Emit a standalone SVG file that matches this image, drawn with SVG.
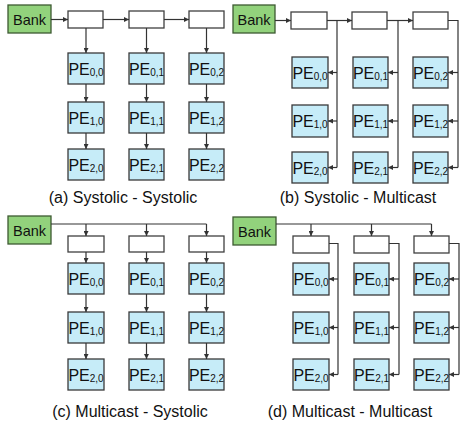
<svg xmlns="http://www.w3.org/2000/svg" width="474" height="434" viewBox="0 0 474 434">
<defs>
<marker id="ah" viewBox="0 0 6 6" refX="6" refY="3" markerWidth="5" markerHeight="5" orient="auto" markerUnits="userSpaceOnUse">
<path d="M0,0 L6,3 L0,6 Z" fill="#333"/>
</marker>
</defs>
<style>
.bank{fill:#92d27c;stroke:#3d5a32;stroke-width:1.3}
.buf{fill:#fff;stroke:#404040;stroke-width:1.3}
.pe{fill:#c6ecf8;stroke:#3a3a3a;stroke-width:1.3}
.t{font-family:"Liberation Sans",Arial,sans-serif;fill:#111;text-anchor:middle}
.bt{font-size:14.5px}
.pt{font-size:16px}
.sb{font-size:10px}
.cap{font-size:16px}
.c{fill:none;stroke:#333;stroke-width:1.2}
.a{marker-end:url(#ah)}
</style>
<rect width="474" height="434" fill="#fff"/>

<!-- Panel a -->
<g id="a-bank"><rect class="bank" x="8" y="5" width="43" height="28"/><text class="t bt" x="29.5" y="24.5">Bank</text></g>
<g id="a-buf0"><rect class="buf" x="68" y="11" width="35" height="17"/></g>
<g id="a-buf1"><rect class="buf" x="129" y="11" width="35" height="17"/></g>
<g id="a-buf2"><rect class="buf" x="189" y="11" width="35" height="17"/></g>
<g id="a-pe00"><rect class="pe" x="68" y="53" width="36" height="31"/><text class="t pt" x="86" y="74.5">PE<tspan class="sb" dy="1">0,0</tspan></text></g>
<g id="a-pe01"><rect class="pe" x="129" y="53" width="35" height="31"/><text class="t pt" x="146.5" y="74.5">PE<tspan class="sb" dy="1">0,1</tspan></text></g>
<g id="a-pe02"><rect class="pe" x="189" y="53" width="35" height="31"/><text class="t pt" x="206.5" y="74.5">PE<tspan class="sb" dy="1">0,2</tspan></text></g>
<g id="a-pe10"><rect class="pe" x="68" y="102" width="36" height="31"/><text class="t pt" x="86" y="123.5">PE<tspan class="sb" dy="1">1,0</tspan></text></g>
<g id="a-pe11"><rect class="pe" x="129" y="102" width="35" height="31"/><text class="t pt" x="146.5" y="123.5">PE<tspan class="sb" dy="1">1,1</tspan></text></g>
<g id="a-pe12"><rect class="pe" x="189" y="102" width="35" height="31"/><text class="t pt" x="206.5" y="123.5">PE<tspan class="sb" dy="1">1,2</tspan></text></g>
<g id="a-pe20"><rect class="pe" x="68" y="149" width="36" height="31"/><text class="t pt" x="86" y="170.5">PE<tspan class="sb" dy="1">2,0</tspan></text></g>
<g id="a-pe21"><rect class="pe" x="129" y="149" width="35" height="31"/><text class="t pt" x="146.5" y="170.5">PE<tspan class="sb" dy="1">2,1</tspan></text></g>
<g id="a-pe22"><rect class="pe" x="189" y="149" width="35" height="31"/><text class="t pt" x="206.5" y="170.5">PE<tspan class="sb" dy="1">2,2</tspan></text></g>
<text class="t cap" x="123" y="203">(a) Systolic - Systolic</text>

<!-- Panel b -->
<g id="b-bank"><rect class="bank" x="233" y="5" width="42" height="28"/><text class="t bt" x="254" y="24.5">Bank</text></g>
<g id="b-buf0"><rect class="buf" x="291" y="12" width="36" height="17"/></g>
<g id="b-buf1"><rect class="buf" x="352" y="12" width="35" height="17"/></g>
<g id="b-buf2"><rect class="buf" x="413" y="12" width="35" height="17"/></g>
<g id="b-pe00"><rect class="pe" x="292" y="57" width="36" height="31"/><text class="t pt" x="310" y="78.5">PE<tspan class="sb" dy="1">0,0</tspan></text></g>
<g id="b-pe01"><rect class="pe" x="353" y="57" width="35" height="31"/><text class="t pt" x="370.5" y="78.5">PE<tspan class="sb" dy="1">0,1</tspan></text></g>
<g id="b-pe02"><rect class="pe" x="413" y="57" width="35" height="31"/><text class="t pt" x="430.5" y="78.5">PE<tspan class="sb" dy="1">0,2</tspan></text></g>
<g id="b-pe10"><rect class="pe" x="292" y="105" width="36" height="32"/><text class="t pt" x="310" y="127">PE<tspan class="sb" dy="1">1,0</tspan></text></g>
<g id="b-pe11"><rect class="pe" x="353" y="105" width="35" height="32"/><text class="t pt" x="370.5" y="127">PE<tspan class="sb" dy="1">1,1</tspan></text></g>
<g id="b-pe12"><rect class="pe" x="413" y="105" width="35" height="32"/><text class="t pt" x="430.5" y="127">PE<tspan class="sb" dy="1">1,2</tspan></text></g>
<g id="b-pe20"><rect class="pe" x="292" y="152" width="36" height="31"/><text class="t pt" x="310" y="173.5">PE<tspan class="sb" dy="1">2,0</tspan></text></g>
<g id="b-pe21"><rect class="pe" x="353" y="152" width="35" height="31"/><text class="t pt" x="370.5" y="173.5">PE<tspan class="sb" dy="1">2,1</tspan></text></g>
<g id="b-pe22"><rect class="pe" x="413" y="152" width="35" height="31"/><text class="t pt" x="430.5" y="173.5">PE<tspan class="sb" dy="1">2,2</tspan></text></g>
<text class="t cap" x="358" y="203">(b) Systolic - Multicast</text>

<!-- Panel c -->
<g id="c-bank"><rect class="bank" x="8" y="216" width="43" height="28"/><text class="t bt" x="29.5" y="235.5">Bank</text></g>
<g id="c-buf0"><rect class="buf" x="68" y="236" width="36" height="16"/></g>
<g id="c-buf1"><rect class="buf" x="129" y="236" width="35" height="16"/></g>
<g id="c-buf2"><rect class="buf" x="189" y="236" width="35" height="16"/></g>
<g id="c-pe00"><rect class="pe" x="68" y="263" width="36" height="31"/><text class="t pt" x="86" y="284.5">PE<tspan class="sb" dy="1">0,0</tspan></text></g>
<g id="c-pe01"><rect class="pe" x="129" y="263" width="35" height="31"/><text class="t pt" x="146.5" y="284.5">PE<tspan class="sb" dy="1">0,1</tspan></text></g>
<g id="c-pe02"><rect class="pe" x="189" y="263" width="35" height="31"/><text class="t pt" x="206.5" y="284.5">PE<tspan class="sb" dy="1">0,2</tspan></text></g>
<g id="c-pe10"><rect class="pe" x="68" y="312" width="36" height="31"/><text class="t pt" x="86" y="333.5">PE<tspan class="sb" dy="1">1,0</tspan></text></g>
<g id="c-pe11"><rect class="pe" x="129" y="312" width="35" height="31"/><text class="t pt" x="146.5" y="333.5">PE<tspan class="sb" dy="1">1,1</tspan></text></g>
<g id="c-pe12"><rect class="pe" x="189" y="312" width="35" height="31"/><text class="t pt" x="206.5" y="333.5">PE<tspan class="sb" dy="1">1,2</tspan></text></g>
<g id="c-pe20"><rect class="pe" x="68" y="359" width="36" height="31"/><text class="t pt" x="86" y="380.5">PE<tspan class="sb" dy="1">2,0</tspan></text></g>
<g id="c-pe21"><rect class="pe" x="129" y="359" width="35" height="31"/><text class="t pt" x="146.5" y="380.5">PE<tspan class="sb" dy="1">2,1</tspan></text></g>
<g id="c-pe22"><rect class="pe" x="189" y="359" width="35" height="31"/><text class="t pt" x="206.5" y="380.5">PE<tspan class="sb" dy="1">2,2</tspan></text></g>
<text class="t cap" x="130" y="417">(c) Multicast - Systolic</text>

<!-- Panel d -->
<g id="d-bank"><rect class="bank" x="233" y="217" width="43" height="28"/><text class="t bt" x="254.5" y="236.5">Bank</text></g>
<g id="d-buf0"><rect class="buf" x="293" y="236" width="36" height="17"/></g>
<g id="d-buf1"><rect class="buf" x="354" y="236" width="35" height="17"/></g>
<g id="d-buf2"><rect class="buf" x="414" y="236" width="35" height="17"/></g>
<g id="d-pe00"><rect class="pe" x="293" y="263" width="36" height="32"/><text class="t pt" x="311" y="285">PE<tspan class="sb" dy="1">0,0</tspan></text></g>
<g id="d-pe01"><rect class="pe" x="354" y="263" width="35" height="32"/><text class="t pt" x="371.5" y="285">PE<tspan class="sb" dy="1">0,1</tspan></text></g>
<g id="d-pe02"><rect class="pe" x="414" y="263" width="35" height="32"/><text class="t pt" x="431.5" y="285">PE<tspan class="sb" dy="1">0,2</tspan></text></g>
<g id="d-pe10"><rect class="pe" x="293" y="312" width="36" height="31"/><text class="t pt" x="311" y="333.5">PE<tspan class="sb" dy="1">1,0</tspan></text></g>
<g id="d-pe11"><rect class="pe" x="354" y="312" width="35" height="31"/><text class="t pt" x="371.5" y="333.5">PE<tspan class="sb" dy="1">1,1</tspan></text></g>
<g id="d-pe12"><rect class="pe" x="414" y="312" width="35" height="31"/><text class="t pt" x="431.5" y="333.5">PE<tspan class="sb" dy="1">1,2</tspan></text></g>
<g id="d-pe20"><rect class="pe" x="293" y="359" width="36" height="31"/><text class="t pt" x="311" y="380.5">PE<tspan class="sb" dy="1">2,0</tspan></text></g>
<g id="d-pe21"><rect class="pe" x="354" y="359" width="35" height="31"/><text class="t pt" x="371.5" y="380.5">PE<tspan class="sb" dy="1">2,1</tspan></text></g>
<g id="d-pe22"><rect class="pe" x="414" y="359" width="35" height="31"/><text class="t pt" x="431.5" y="380.5">PE<tspan class="sb" dy="1">2,2</tspan></text></g>
<text class="t cap" x="350" y="417">(d) Multicast - Multicast</text>

<g id="connectors">
<!-- a -->
<line class="c a" x1="51" y1="19.5" x2="68" y2="19.5"/>
<line class="c a" x1="103" y1="19.5" x2="129" y2="19.5"/>
<line class="c a" x1="164" y1="19.5" x2="189" y2="19.5"/>
<line class="c a" x1="86" y1="28" x2="86" y2="53"/>
<line class="c a" x1="146.5" y1="28" x2="146.5" y2="53"/>
<line class="c a" x1="206.5" y1="28" x2="206.5" y2="53"/>
<line class="c a" x1="86" y1="84" x2="86" y2="102"/>
<line class="c a" x1="146.5" y1="84" x2="146.5" y2="102"/>
<line class="c a" x1="206.5" y1="84" x2="206.5" y2="102"/>
<line class="c a" x1="86" y1="133" x2="86" y2="149"/>
<line class="c a" x1="146.5" y1="133" x2="146.5" y2="149"/>
<line class="c a" x1="206.5" y1="133" x2="206.5" y2="149"/>
<!-- b -->
<line class="c a" x1="275" y1="20.5" x2="291" y2="20.5"/>
<line class="c a" x1="327" y1="20.5" x2="352" y2="20.5"/>
<line class="c a" x1="387" y1="20.5" x2="413" y2="20.5"/>
<polyline class="c" points="448,20.5 458,20.5 458,167.5"/>
<line class="c" x1="337" y1="20.5" x2="337" y2="167.5"/>
<line class="c" x1="398" y1="20.5" x2="398" y2="167.5"/>
<line class="c a" x1="337" y1="72.5" x2="328" y2="72.5"/>
<line class="c a" x1="337" y1="121" x2="328" y2="121"/>
<line class="c a" x1="337" y1="167.5" x2="328" y2="167.5"/>
<line class="c a" x1="398" y1="72.5" x2="388" y2="72.5"/>
<line class="c a" x1="398" y1="121" x2="388" y2="121"/>
<line class="c a" x1="398" y1="167.5" x2="388" y2="167.5"/>
<line class="c a" x1="458" y1="72.5" x2="448" y2="72.5"/>
<line class="c a" x1="458" y1="121" x2="448" y2="121"/>
<line class="c a" x1="458" y1="167.5" x2="448" y2="167.5"/>
<!-- c -->
<line class="c" x1="51" y1="224" x2="206.5" y2="224"/>
<line class="c a" x1="86" y1="224" x2="86" y2="236"/>
<line class="c a" x1="146.5" y1="224" x2="146.5" y2="236"/>
<line class="c a" x1="206.5" y1="224" x2="206.5" y2="236"/>
<line class="c a" x1="86" y1="252" x2="86" y2="263"/>
<line class="c a" x1="146.5" y1="252" x2="146.5" y2="263"/>
<line class="c a" x1="206.5" y1="252" x2="206.5" y2="263"/>
<line class="c a" x1="86" y1="294" x2="86" y2="312"/>
<line class="c a" x1="146.5" y1="294" x2="146.5" y2="312"/>
<line class="c a" x1="206.5" y1="294" x2="206.5" y2="312"/>
<line class="c a" x1="86" y1="343" x2="86" y2="359"/>
<line class="c a" x1="146.5" y1="343" x2="146.5" y2="359"/>
<line class="c a" x1="206.5" y1="343" x2="206.5" y2="359"/>
<!-- d -->
<line class="c" x1="276" y1="224" x2="431.5" y2="224"/>
<line class="c a" x1="311" y1="224" x2="311" y2="236"/>
<line class="c a" x1="371.5" y1="224" x2="371.5" y2="236"/>
<line class="c a" x1="431.5" y1="224" x2="431.5" y2="236"/>
<polyline class="c" points="329,243.5 338,243.5 338,374.5"/>
<polyline class="c" points="389,243.5 399,243.5 399,374.5"/>
<polyline class="c" points="449,243.5 459,243.5 459,374.5"/>
<line class="c a" x1="338" y1="279" x2="329" y2="279"/>
<line class="c a" x1="338" y1="327.5" x2="329" y2="327.5"/>
<line class="c a" x1="338" y1="374.5" x2="329" y2="374.5"/>
<line class="c a" x1="399" y1="279" x2="389" y2="279"/>
<line class="c a" x1="399" y1="327.5" x2="389" y2="327.5"/>
<line class="c a" x1="399" y1="374.5" x2="389" y2="374.5"/>
<line class="c a" x1="459" y1="279" x2="449" y2="279"/>
<line class="c a" x1="459" y1="327.5" x2="449" y2="327.5"/>
<line class="c a" x1="459" y1="374.5" x2="449" y2="374.5"/>
</g>
</svg>
